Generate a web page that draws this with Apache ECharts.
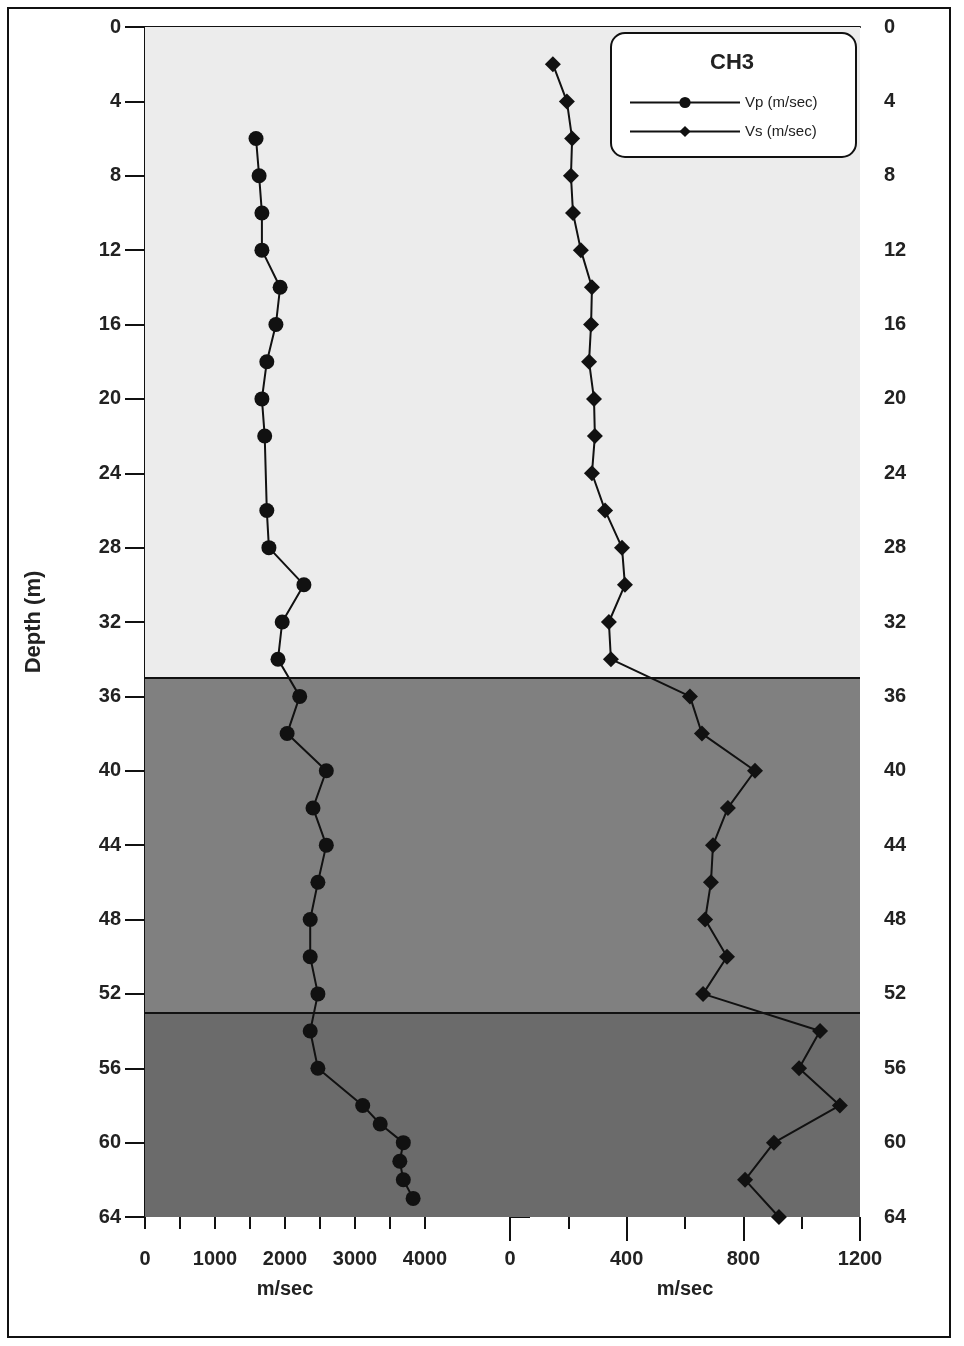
<!DOCTYPE html>
<html><head><meta charset="utf-8">
<script src="https://cdn.jsdelivr.net/npm/echarts@6/dist/echarts.min.js"></script>
<style>html,body{margin:0;padding:0;background:#fff}#c{width:964px;height:1346px}</style>
</head><body><div id="c"></div>
<script>
const vpDepth=[6,8,10,12,14,16,18,20,22,26,28,30,32,34,36,38,40,42,44,46,48,50,52,54,56,58,59,60,61,62,63];
const vpVal=[1586,1630,1670,1670,1930,1870,1740,1670,1710,1740,1770,2270,1960,1900,2210,2030,2590,2400,2590,2470,2360,2360,2470,2360,2470,3110,3360,3690,3640,3690,3830];
const vsDepth=[2,4,6,8,10,12,14,16,18,20,22,24,26,28,30,32,34,36,38,40,42,44,46,48,50,52,54,56,58,60,62,64];
const vsVal=[147,195,213,209,216,243,281,278,271,288,291,281,326,384,394,339,346,617,658,840,747,696,689,669,744,662,1063,991,1131,905,806,922];
const vpMax=4000, vsMax=1200;
const layers=[[0,35,'#ececec'],[35,53,'#808080'],[53,64,'#6b6b6b']];
const boundaries=[35,53];

const F='Liberation Sans, Arial, sans-serif';
const lab={fontFamily:F,fontSize:20,color:'#222',fontWeight:'bold'};
const fmt=v=>String(v);
const bg=()=>({silent:true,data:layers.map(l=>[{yAxis:l[0],itemStyle:{color:l[2]}},{yAxis:l[1]}])});
const ml=()=>({silent:true,symbol:'none',label:{show:false},lineStyle:{color:'#111',width:2,type:'solid'},data:boundaries.map(b=>({yAxis:b}))});
const yBase=(pos)=>({type:'value',inverse:true,min:0,max:64,interval:4,position:pos,
  axisLine:{show:true,lineStyle:{color:'#111',width:2}},
  axisTick:{show:true,inside:false,length:20,lineStyle:{color:'#111',width:2}},
  axisLabel:{...lab,margin:24,formatter:fmt},splitLine:{show:false}});
const tickAxis=(g,max,interval,len,labels,name)=>({gridIndex:g,type:'value',min:0,max:max,interval:interval,position:'bottom',
  name:name||'',nameLocation:'middle',nameGap:62,nameTextStyle:lab,
  axisLine:{show:false},axisTick:{length:len,lineStyle:{color:'#111',width:2}},
  axisLabel:labels?{...lab,margin:32,formatter:fmt}:{show:false},splitLine:{show:false}});
const chart=echarts.init(document.getElementById('c'));
chart.setOption({
  animation:false,
  grid:[{left:145,top:27,width:365,height:1190},{left:510,top:27,width:350,height:1190},{left:145,top:27,width:280,height:1190}],
  xAxis:[
    {gridIndex:0,type:'value',min:0,max:5214,axisLine:{lineStyle:{color:'#111',width:2}},axisTick:{show:false},axisLabel:{show:false},splitLine:{show:false}},
    {gridIndex:1,type:'value',min:0,max:vsMax,axisLine:{lineStyle:{color:'#111',width:2}},axisTick:{show:false},axisLabel:{show:false},splitLine:{show:false}},
    tickAxis(2,vpMax,1000,24,true,'m/sec'),
    tickAxis(2,vpMax,500,12,false),
    tickAxis(1,vsMax,400,24,true,'m/sec'),
    tickAxis(1,vsMax,200,12,false)
  ],
  yAxis:[
    {gridIndex:0,...yBase('left'),name:'Depth (m)',nameLocation:'middle',nameGap:100,nameRotate:90,nameTextStyle:{...lab,fontSize:22}},
    {gridIndex:1,...yBase('right')},
    {gridIndex:2,type:'value',inverse:true,min:0,max:64,show:false}
  ],
  legend:{orient:'vertical',left:624,top:90,itemWidth:110,itemHeight:14,itemGap:14,z:10,
    textStyle:{fontFamily:F,fontSize:15,color:'#222'},data:['Vp (m/sec)','Vs (m/sec)']},
  graphic:[
    {type:'rect',z:5,shape:{x:611,y:33,width:245,height:124,r:14},style:{fill:'#fff',stroke:'#111',lineWidth:2}},
    {type:'text',z:6,left:710,top:52,style:{text:'CH3',font:'bold 22px '+F,fill:'#222'}},
    {type:'rect',z:0,silent:true,shape:{x:8,y:8,width:942,height:1329},style:{fill:'none',stroke:'#111',lineWidth:2}}
  ],
  series:[
    {name:'Vp (m/sec)',type:'line',xAxisIndex:0,yAxisIndex:0,data:vpVal.map((v,i)=>[v,vpDepth[i]]),
     symbol:'circle',symbolSize:15,itemStyle:{color:'#111'},lineStyle:{color:'#111',width:2},z:3,markArea:bg(),markLine:ml()},
    {name:'Vs (m/sec)',type:'line',xAxisIndex:1,yAxisIndex:1,data:vsVal.map((v,i)=>[v,vsDepth[i]]),
     symbol:'diamond',symbolSize:16,itemStyle:{color:'#111'},lineStyle:{color:'#111',width:2},z:3,markArea:bg(),markLine:ml()}
  ]
});
</script></body></html>
